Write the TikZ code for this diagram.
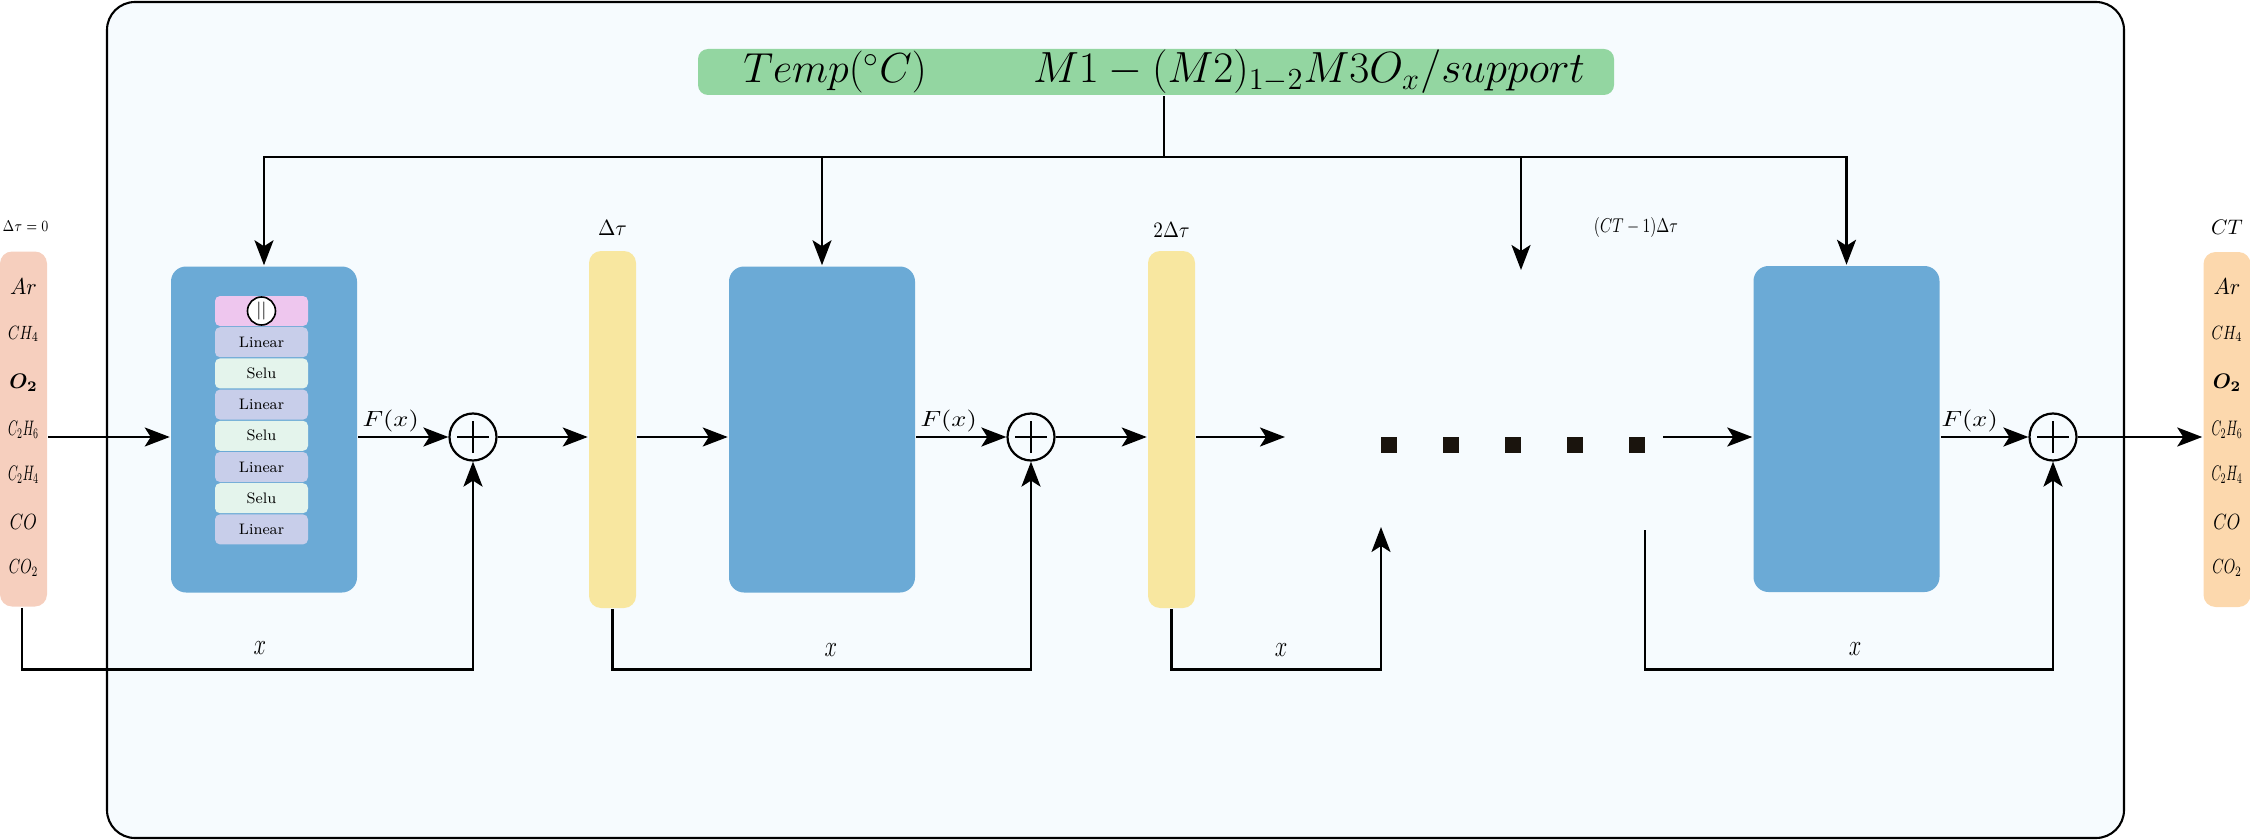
\RequirePackage{fix-cm}
\documentclass[tikz,border=0pt]{standalone}
\usepackage{amsmath}
\usetikzlibrary{arrows.meta}
\definecolor{framebg}{HTML}{F6FBFE}
\definecolor{topgreen}{HTML}{93D6A1}
\definecolor{inpink}{HTML}{F6CFBE}
\definecolor{outpeach}{HTML}{FCD8AD}
\definecolor{blockblue}{HTML}{6BAAD6}
\definecolor{baryellow}{HTML}{F8E7A0}
\definecolor{rowpink}{HTML}{EEC6EE}
\definecolor{rowlin}{HTML}{C8CEEA}
\definecolor{rowselu}{HTML}{E4F4EC}
\definecolor{dotdark}{HTML}{1A140D}
\newcommand{\hsqz}[2]{\scalebox{#1}[1]{#2}}
\tikzset{
  fs/.style={font=\fontsize{#1}{#1}\selectfont},
  bluebox/.style={fill=blockblue, rounded corners=7.5pt, minimum width=93pt, minimum height=163pt, inner sep=0pt},
  tbar/.style={fill=baryellow, rounded corners=6pt, minimum width=23.5pt, minimum height=178.5pt, inner sep=0pt},
  iobar/.style={rounded corners=6pt, minimum width=23.5pt, minimum height=177.5pt, inner sep=0pt},
  sumnode/.style={circle, draw, line width=1.1pt, fill=framebg, minimum size=23.5pt, inner sep=0pt,
    path picture={\draw[line width=1.2pt] (path picture bounding box.center) ++(-8pt,0) -- ++(16pt,0);
                  \draw[line width=1.2pt] (path picture bounding box.center) ++(0,-8pt) -- ++(0,16pt);}},
  rowbox/.style={rounded corners=2.5pt, minimum width=46.5pt, minimum height=15pt, inner sep=0pt, fs=7.6},
  dotbox/.style={fill=dotdark, minimum size=8pt, inner sep=0pt},
  lbl/.style={inner sep=0pt},
}
\begin{document}
\begin{tikzpicture}[x=0.5pt,y=-0.5pt, line width=1.25pt,
  >={Stealth[length=12.5pt,width=9.5pt,inset=3pt]}]
\useasboundingbox (0,0) rectangle (2250,840);
% outer frame
\draw[line width=1.05pt, fill=framebg, rounded corners=14pt] (107,2) rectangle (2124,838);

% top condition box
\node[fill=topgreen, rounded corners=5pt, minimum width=458pt, minimum height=23pt, inner sep=0pt] (cond) at (1156,72) {};
\node[lbl, fs=21] (condT) at (835,72) {$Temp(^\circ C)$};
\node[lbl, fs=21.8] (condF) at (1309,72) {$M1-(M2)_{1-2}M3O_x/support$};

% input / output bars
\node[iobar, fill=inpink] (inbar) at (23.5,429) {};
\node[iobar, fill=outpeach] (outbar) at (2227,429.5) {};
\node[lbl, fs=7.8] (lab0) at (25.5,226) {\hsqz{0.8}{$\Delta\tau=0$}};
\node[lbl, fs=10.5] (labct) at (2227,227) {$CT$};
\foreach \xx/\nm in {23.5/in,2227/out}{
  \node[lbl, fs=11.5] (\nm ar) at (\xx,287) {\hsqz{0.95}{$Ar$}};
  \node[lbl, fs=9.6] (\nm ch) at (\xx,334) {\hsqz{0.75}{$CH_4$}};
  \node[lbl, fs=10.5] (\nm o) at (\xx,383) {$\boldsymbol{O_2}$};
  \node[lbl, fs=10.5] (\nm ce) at (\xx,430) {\hsqz{0.6}{$C_2H_6$}};
  \node[lbl, fs=10.5] (\nm cy) at (\xx,475) {\hsqz{0.6}{$C_2H_4$}};
  \node[lbl, fs=11] (\nm co) at (\xx,522) {\hsqz{0.78}{$CO$}};
  \node[lbl, fs=10.2] (\nm cot) at (\xx,568) {\hsqz{0.72}{$CO_2$}};
}

% blocks
\node[bluebox] (block1) at (264,429.5) {};
\node[bluebox] (block2) at (822,429.5) {};
\node[bluebox] (block3) at (1846.5,429) {};

% inner layer stack of block 1
\node[rowbox, fill=rowpink] (r0) at (261.5,311) {};
\node[circle, draw, line width=0.8pt, fill=white, minimum size=14pt, inner sep=0pt, fs=9] (cat) at (r0.center) {$||$};
\node[rowbox, fill=rowlin] (r1) at (261.5,342.2) {Linear};
\node[rowbox, fill=rowselu] (r2) at (261.5,373.4) {Selu};
\node[rowbox, fill=rowlin] (r3) at (261.5,404.6) {Linear};
\node[rowbox, fill=rowselu] (r4) at (261.5,435.8) {Selu};
\node[rowbox, fill=rowlin] (r5) at (261.5,467) {Linear};
\node[rowbox, fill=rowselu] (r6) at (261.5,498.2) {Selu};
\node[rowbox, fill=rowlin] (r7) at (261.5,529.4) {Linear};

% time bars
\node[tbar] (bar1) at (612.5,429.5) {};
\node[tbar] (bar2) at (1171.5,429.5) {};
\node[lbl, fs=11] (labt1) at (612.5,228) {\hsqz{0.95}{$\Delta\tau$}};
\node[lbl, fs=11] (labt2) at (1171.5,230) {\hsqz{0.87}{$2\Delta\tau$}};
\node[lbl, fs=10] (labt3) at (1636,228) {\hsqz{0.78}{$(CT-1)\Delta\tau$}};

% sum nodes
\node[sumnode] (sum1) at (473,437) {};
\node[sumnode] (sum2) at (1031,437) {};
\node[sumnode] (sum3) at (2053,437) {};

% dots
\node[dotbox] (d1) at (1389,445) {};
\node[dotbox] (d2) at (1451,445) {};
\node[dotbox] (d3) at (1513,445) {};
\node[dotbox] (d4) at (1575,445) {};
\node[dotbox] (d5) at (1637,445) {};

% helper coordinates
\coordinate (lvl) at (0,437);
\coordinate (low) at (0,669.5);
\coordinate (hub) at (1164,157);
\coordinate (freetip) at (1521,270);
\coordinate (gapend) at (1285,437);
\coordinate (gapstart) at (1663,437);
\coordinate (uptip) at (1381,527);
\coordinate (downstart) at (1645,530);
\coordinate (inx) at (22,0);

% condition feed
\draw (hub |- cond.south) -- (hub);
\draw[->] (hub) -| (block1.north);
\draw[->] (hub) -| (block3.north);
\draw[->] (block2.north |- hub) -- (block2.north);
\draw[->] (freetip |- hub) -- (freetip);

% main flow
\draw[->] (inbar.east |- lvl) -- (block1.west |- lvl);
\draw[->] (block1.east |- lvl) -- node[pos=0.36, above, inner sep=2pt, fs=11] {\hsqz{1.2}{$F(x)$}} (sum1.west);
\draw[->] (sum1.east) -- (bar1.west |- lvl);
\draw[->] (bar1.east |- lvl) -- (block2.west |- lvl);
\draw[->] (block2.east |- lvl) -- node[pos=0.36, above, inner sep=2pt, fs=11] {\hsqz{1.2}{$F(x)$}} (sum2.west);
\draw[->] (sum2.east) -- (bar2.west |- lvl);
\draw[->] (bar2.east |- lvl) -- (gapend);
\draw[->] (gapstart) -- (block3.west |- lvl);
\draw[->] (block3.east |- lvl) -- node[pos=0.33, above, inner sep=2pt, fs=11] {\hsqz{1.2}{$F(x)$}} (sum3.west);
\draw[->] (sum3.east) -- (outbar.west |- lvl);

% skip connections
\draw[->] (inx |- inbar.south) -- (inx |- low) -| (sum1.south);
\draw[->] (bar1.south) -- (bar1.south |- low) -| (sum2.south);
\draw[->] (bar2.south) -- (bar2.south |- low) -| (uptip);
\draw[->] (downstart) -- (downstart |- low) -| (sum3.south);
\node[lbl, fs=15] (x1) at (260,648) {\hsqz{0.75}{$x$}};
\node[lbl, fs=15] (x2) at (831,650) {\hsqz{0.75}{$x$}};
\node[lbl, fs=15] (x3) at (1281,650) {\hsqz{0.75}{$x$}};
\node[lbl, fs=15] (x4) at (1855,649) {\hsqz{0.75}{$x$}};
\end{tikzpicture}
\end{document}
